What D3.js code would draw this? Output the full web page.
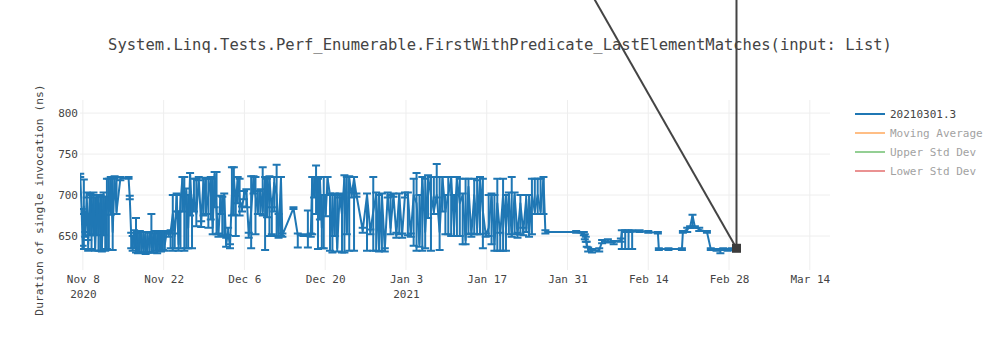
<!DOCTYPE html>
<html>
<head>
<meta charset="utf-8">
<script src="https://cdn.jsdelivr.net/npm/d3@7"></script>
<style>
  body { margin: 0; background: #fff; }
  svg { font-family: "DejaVu Sans Mono", monospace; }
</style>
</head>
<body>
<svg width="1000" height="350"></svg>
<script>
// run timestamps, grouped by stretch of the chart
const dates = [
  "2020-11-07T13","2020-11-07T19","2020-11-07T23","2020-11-08T04","2020-11-08T10","2020-11-08T16","2020-11-08T22","2020-11-09T05","2020-11-09T12","2020-11-09T20","2020-11-10T03","2020-11-10T10","2020-11-10T17","2020-11-11T00","2020-11-11T07","2020-11-11T14","2020-11-11T21","2020-11-12T04","2020-11-12T12","2020-11-12T20","2020-11-13T04","2020-11-13T12","2020-11-13T20","2020-11-14T12","2020-11-15T22","2020-11-16T03","2020-11-16T09",
  "2020-11-16T15","2020-11-16T21","2020-11-17T05","2020-11-17T13","2020-11-17T21","2020-11-18T05","2020-11-18T13","2020-11-18T21","2020-11-19T05","2020-11-19T13","2020-11-19T21","2020-11-20T05","2020-11-20T13","2020-11-20T21","2020-11-21T05","2020-11-21T13","2020-11-21T21","2020-11-22T05","2020-11-22T13","2020-11-22T21","2020-11-23T05",
  "2020-11-23T14","2020-11-23T22","2020-11-24T06","2020-11-24T14","2020-11-24T22","2020-11-25T06","2020-11-25T14","2020-11-25T22","2020-11-26T06","2020-11-26T14","2020-11-26T22","2020-11-27T06",
  "2020-11-27T16","2020-11-28T02","2020-11-28T12","2020-11-28T22","2020-11-29T08","2020-11-29T18","2020-11-30T04","2020-11-30T12","2020-11-30T20","2020-12-01T04","2020-12-01T12",
  "2020-12-01T20","2020-12-02T04","2020-12-02T12","2020-12-02T20","2020-12-03T04","2020-12-03T12","2020-12-03T20","2020-12-04T04","2020-12-04T12","2020-12-04T20","2020-12-05T04",
  "2020-12-05T14","2020-12-05T22","2020-12-06T08","2020-12-06T18","2020-12-07T04","2020-12-07T14","2020-12-07T22","2020-12-08T08","2020-12-08T18",
  "2020-12-09T04","2020-12-09T14","2020-12-09T22","2020-12-10T08","2020-12-10T18","2020-12-11T04","2020-12-11T14","2020-12-11T22","2020-12-12T08","2020-12-12T14",
  "2020-12-14T12","2020-12-15T06","2020-12-16T06","2020-12-17T00","2020-12-17T12","2020-12-17T18",
  "2020-12-18T02","2020-12-18T10","2020-12-18T18","2020-12-19T02","2020-12-19T10","2020-12-19T18","2020-12-20T02","2020-12-20T10",
  "2020-12-20T20","2020-12-21T06","2020-12-21T16","2020-12-22T02","2020-12-22T12","2020-12-22T22","2020-12-23T08","2020-12-23T18","2020-12-24T04","2020-12-24T14","2020-12-25T00","2020-12-25T10",
  "2020-12-26T12","2020-12-27T06","2020-12-27T20","2020-12-28T08","2020-12-28T20","2020-12-29T08","2020-12-29T20","2020-12-30T08","2020-12-30T20","2020-12-31T08","2020-12-31T20","2021-01-01T08","2021-01-01T20","2021-01-02T08","2021-01-02T20",
  "2021-01-03T08","2021-01-03T20","2021-01-04T08","2021-01-04T20","2021-01-05T08","2021-01-05T20","2021-01-06T08","2021-01-06T20","2021-01-07T08","2021-01-07T20","2021-01-08T08","2021-01-08T20","2021-01-09T08","2021-01-09T20","2021-01-10T08",
  "2021-01-10T20","2021-01-11T08","2021-01-11T20","2021-01-12T08","2021-01-12T20","2021-01-13T08","2021-01-13T20","2021-01-14T08","2021-01-14T20","2021-01-15T08","2021-01-15T20","2021-01-16T08","2021-01-16T20",
  "2021-01-17T08","2021-01-17T20","2021-01-18T08","2021-01-18T20","2021-01-19T08","2021-01-19T20","2021-01-20T08","2021-01-20T20","2021-01-21T08","2021-01-21T20",
  "2021-01-22T08","2021-01-22T20","2021-01-23T08","2021-01-23T20","2021-01-24T08","2021-01-24T20","2021-01-25T08","2021-01-25T20","2021-01-26T08","2021-01-26T20","2021-01-27T04",
  "2021-02-01T12","2021-02-02T20","2021-02-03T00","2021-02-03T04","2021-02-03T08","2021-02-03T14","2021-02-04T06","2021-02-05T12","2021-02-06T00","2021-02-07T00","2021-02-08T00","2021-02-09T06","2021-02-09T10","2021-02-10T00","2021-02-10T14","2021-02-11T05","2021-02-12T12","2021-02-14T00","2021-02-15T16","2021-02-15T20","2021-02-17T12","2021-02-19T20","2021-02-20T00","2021-02-20T18","2021-02-21T06","2021-02-21T16","2021-02-22T02","2021-02-22T20","2021-02-24T04","2021-02-24T20","2021-02-25T20","2021-02-26T12","2021-02-27T00","2021-02-27T18","2021-02-28T12","2021-03-01T07"
];

// duration (ns)
const values = [
  724,680,636,686,652,700,640,698,650,700,635,697,651,690,634,700,652,698,680,720,655,722,680,720,721,697,651,
  640,655,645,632,654,635,652,630,650,636,655,633,654,631,652,634,655,640,655,652,655,
  677,650,700,640,690,720,680,705,660,725,680,700,
  677,720,665,720,680,700,720,660,725,680,651,
  697,678,700,640,655,637,700,722,690,720,695,
  683,700,705,651,680,722,700,680,705,
  680,720,677,720,680,715,700,651,720,651,
  684,651,651,651,651,720,
  700,722,680,720,660,700,677,720,
  700,650,700,635,700,676,722,655,720,700,720,700,
  657,700,655,680,700,633,700,633,700,660,700,651,700,651,700,
  700,651,700,690,640,720,655,722,700,680,700,655,720,680,700,
  720,660,720,690,700,645,710,651,700,660,720,680,651,
  660,700,640,690,651,700,660,700,651,700,
  651,690,655,695,651,700,680,700,680,720,655,
  655,653,649,646,640,634,632,633,643,644,642,645,655,655,655,655,656,655,654,634,634,634,655,658,661,675,661,658,655,634,633,633,634,633,634,635
];

// error bar, upward
const errUp = [
  2,3,2,33,3,3,5,4,50,3,62,3,48,10,64,3,46,22,40,2,67,1,42,2,1,2,3,
  10,2,27,22,2,20,3,25,5,18,22,20,2,23,3,20,1,15,1,3,2,
  23,3,2,40,10,2,42,3,40,2,10,20,
  43,2,3,1,40,20,2,60,3,48,2,
  2,20,2,8,5,3,34,12,9,2,25,
  3,5,2,3,43,1,22,25,2,
  54,2,43,3,5,7,37,26,2,2,
  1,2,1,30,2,2,
  22,14,40,2,40,22,23,2,
  2,50,2,65,2,24,2,67,3,3,2,2,
  3,2,3,42,3,67,2,2,3,40,2,3,2,2,3,
  3,2,20,37,60,2,65,2,22,42,38,67,2,20,22,
  2,40,2,30,2,75,10,2,20,58,2,40,2,
  40,2,60,30,3,20,40,3,71,3,
  3,10,5,5,49,20,40,20,40,2,2,
  1,2,3,3,3,2,2,2,2,2,2,2,2,2,2,2,1,1,1,1,1,1,1,2,1,1,1,2,1,1,1,1,1,1,1,1
];

// error bar, downward
const errDown = [
  2,3,2,52,3,3,8,47,16,48,3,46,19,58,3,49,20,64,47,44,22,2,3,2,1,2,16,
  8,20,15,3,24,5,22,2,20,6,25,3,22,2,20,3,22,8,2,3,20,
  45,15,20,8,55,40,48,70,25,50,45,20,
  15,2,4,45,3,40,50,8,40,28,2,
  20,27,50,3,4,2,25,46,40,30,20,
  3,5,20,3,45,20,48,3,28,
  5,87,4,70,28,35,50,3,70,2,
  1,15,1,15,2,68,
  3,45,46,50,25,65,3,20,
  68,20,50,4,3,46,92,3,88,3,88,2,
  3,68,3,48,68,2,68,2,3,8,2,3,48,3,3,
  49,2,62,58,3,88,20,50,68,3,3,22,40,28,48,
  70,10,70,40,60,5,58,2,48,8,68,45,2,
  10,60,8,58,19,68,28,48,2,48,
  3,38,4,40,2,48,3,23,3,43,2,
  1,2,3,3,3,3,2,2,2,2,2,2,21,21,21,21,1,1,1,1,1,1,1,3,1,15,1,2,1,1,1,4,1,1,1,1
];

const xTicks = ["2020-11-08","2020-11-22","2020-12-06","2020-12-20","2021-01-03","2021-01-17","2021-01-31","2021-02-14","2021-02-28","2021-03-14"];
const xTickLabels = ["Nov 8","Nov 22","Dec 6","Dec 20","Jan 3","Jan 17","Jan 31","Feb 14","Feb 28","Mar 14"];
const xTickYears = ["2020","","","","2021","","","","",""];
const yTicks = [650, 700, 750, 800];

const legendNames = ["20210301.3", "Moving Average", "Upper Std Dev", "Lower Std Dev"];
const legendColors = ["#1f77b4", "#ff7f0e", "#2ca02c", "#d62728"];
const legendVisible = [true, false, false, false];

const title = "System.Linq.Tests.Perf_Enumerable.FirstWithPredicate_LastElementMatches(input: List)";
const yTitle = "Duration of single invocation (ns)";

const parseHour = d3.timeParse("%Y-%m-%dT%H");
const parseDay = d3.timeParse("%Y-%m-%d");

const data = dates.map((d, i) => ({
  date: parseHour(d),
  value: values[i],
  hi: values[i] + errUp[i],
  lo: values[i] - errDown[i]
}));

const plot = { left: 80, right: 830, top: 100, bottom: 270 };
const textColor = "#444";

const svg = d3.select("svg");

const x = d3.scaleTime()
  .domain([parseHour("2020-11-07T12"), parseHour("2021-03-17T12")])
  .range([plot.left, plot.right]);

const y = d3.scaleLinear()
  .domain([608.5, 816])
  .range([plot.bottom, plot.top]);

// grid
svg.append("g")
  .selectAll("line")
  .data(yTicks)
  .join("line")
  .attr("x1", plot.left).attr("x2", plot.right)
  .attr("y1", d => y(d)).attr("y2", d => y(d))
  .attr("stroke", "#eee").attr("stroke-width", 1);

svg.append("g")
  .selectAll("line")
  .data(xTicks)
  .join("line")
  .attr("x1", d => x(parseDay(d))).attr("x2", d => x(parseDay(d)))
  .attr("y1", plot.top).attr("y2", plot.bottom)
  .attr("stroke", "#eee").attr("stroke-width", 1);

// axes (labels only, plotly style)
const yAxis = svg.append("g")
  .attr("transform", `translate(${plot.left - 2},0)`)
  .call(d3.axisLeft(y).tickValues(yTicks).tickSize(0).tickPadding(0));
yAxis.select(".domain").remove();
yAxis.selectAll("text")
  .attr("fill", textColor)
  .style("font-size", "11px")
  .style("font-family", "DejaVu Sans Mono");

const xAxis = svg.append("g")
  .attr("transform", `translate(0,${plot.bottom})`)
  .call(d3.axisBottom(x).tickValues(xTicks.map(parseDay)).tickSize(0).tickPadding(0)
    .tickFormat((d, i) => xTickLabels[i]));
xAxis.select(".domain").remove();
xAxis.selectAll("text")
  .attr("fill", textColor)
  .attr("y", 5)
  .style("font-size", "11px")
  .style("font-family", "DejaVu Sans Mono")
  .each(function (d, i) {
    if (xTickYears[i]) {
      d3.select(this).append("tspan")
        .attr("x", 0).attr("dy", "1.4em")
        .text(xTickYears[i]);
    }
  });

// series
svg.append("clipPath").attr("id", "clip")
  .append("rect")
  .attr("x", plot.left).attr("y", plot.top)
  .attr("width", plot.right - plot.left).attr("height", plot.bottom - plot.top);

const series = svg.append("g").attr("clip-path", "url(#clip)");
const blue = legendColors[0];
const cap = 4;

const bars = series.append("g")
  .attr("stroke", blue).attr("stroke-width", 2).attr("fill", "none");

bars.selectAll("path")
  .data(data)
  .join("path")
  .attr("d", d => {
    const cx = x(d.date), yh = y(d.hi), yl = y(d.lo);
    return `M${cx},${yh}V${yl}M${cx - cap},${yh}H${cx + cap}M${cx - cap},${yl}H${cx + cap}`;
  });

const line = d3.line()
  .x(d => x(d.date))
  .y(d => y(d.value));

series.append("path")
  .datum(data)
  .attr("fill", "none")
  .attr("stroke", blue)
  .attr("stroke-width", 2)
  .attr("stroke-linejoin", "round")
  .attr("d", line);

// annotation arrows on the latest run
const last = data[data.length - 1];
const ax = x(last.date), ay = y(last.value);
const ann = svg.append("g").attr("stroke", "#444").attr("stroke-width", 2);
ann.append("line")
  .attr("x1", ax).attr("y1", ay)
  .attr("x2", ax - 154).attr("y2", ay - 270);
ann.append("line")
  .attr("x1", ax).attr("y1", ay)
  .attr("x2", ax).attr("y2", ay - 270);
svg.append("rect")
  .attr("x", ax - 4.5).attr("y", ay - 4.5)
  .attr("width", 9).attr("height", 9)
  .attr("fill", "#3c3c3c");

// title
svg.append("text")
  .attr("x", 500)
  .attr("y", 50)
  .attr("text-anchor", "middle")
  .attr("fill", textColor)
  .style("font-size", "15.5px")
  .text(title);

svg.append("text")
  .attr("transform", "translate(43,200) rotate(-90)")
  .attr("text-anchor", "middle")
  .attr("fill", textColor)
  .style("font-size", "11.3px")
  .text(yTitle);

// legend
const legend = svg.append("g").attr("transform", "translate(855,114)");
legendNames.forEach((name, i) => {
  const row = legend.append("g")
    .attr("transform", `translate(0,${i * 19})`)
    .attr("opacity", legendVisible[i] ? 1 : 0.5);
  row.append("line")
    .attr("x1", 0).attr("x2", 30)
    .attr("stroke", legendColors[i]).attr("stroke-width", 2);
  row.append("text")
    .attr("x", 35).attr("y", 4)
    .attr("fill", textColor)
    .style("font-size", "11px")
    .text(name);
});
</script>
</body>
</html>
